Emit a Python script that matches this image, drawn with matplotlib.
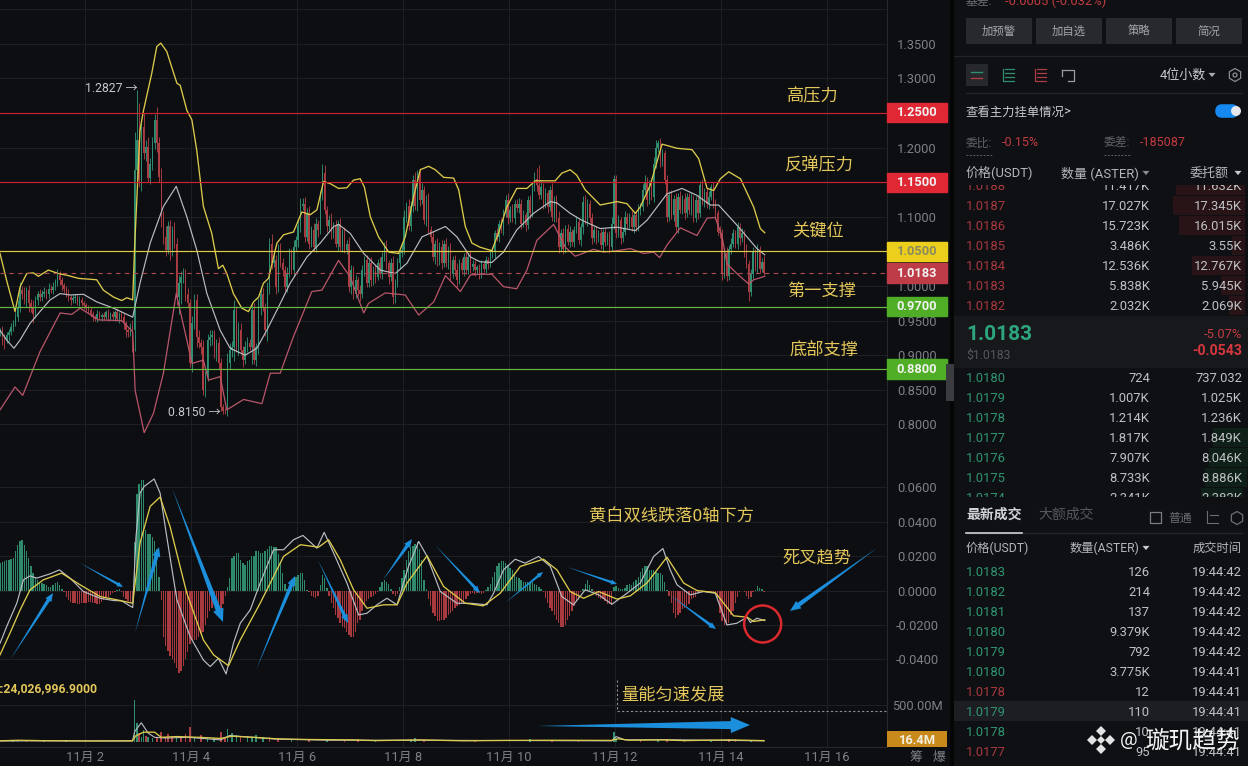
import matplotlib
matplotlib.use("Agg")
import matplotlib.pyplot as plt
from matplotlib.patches import Rectangle, Circle, Polygon, FancyBboxPatch, RegularPolygon

plt.rcParams["font.family"] = ["Roboto", "Noto Sans CJK SC", "DejaVu Sans"]

W, H = 1248, 766
BG = "#0d0e11"
GRID = "#1d1f23"
AXIS_TXT = "#7d8087"
GREEN = "#2f8f70"
RED = "#ab3d43"
NOTE = "#e3c75a"
ARROW = "#1c8fdc"

# hourly candles, x is the candle number (open = previous close)
closes = [
    .936, .927, .924, .929, .934, .941, .946, .955, .970, .994,
    .989, .980, .994, .975, .970, .960, .980, .989, .984, .989,
    .992, .989, .996, .994, .999, 1.004, 1.016, 1.008, 1.001, .996,
    .989, .984, .980, .982, .984, .977, .980, .975, .972, .970,
    .965, .960, .955, .953, .960, .955, .958, .955, .963, .955,
    .960, .955, .963, .953, .960, .955, .946, .936, .934, .941,
    .936, 1.168, 1.211, 1.153, 1.230, 1.192, 1.201, 1.156, 1.177, 1.206,
    1.240, 1.206, 1.158, 1.100, 1.071, 1.052, 1.086, 1.052, 1.081, 1.061,
    .984, 1.004, 1.013, 1.018, .989, .975, .888, .946, .980, .927,
    .917, .912, .849, .869, .922, .927, .929, .902, .917, .888,
    .825, .820, .818, .888, .907, .912, .965, .912, .936, .907,
    .893, .912, .917, .912, .965, .893, .912, .970, .989, .970,
    .936, .994, 1.061, 1.033, 1.037, .999, 1.052, 1.033, 1.023, .999,
    1.018, 1.047, 1.023, 1.057, 1.066, 1.086, 1.115, 1.119, 1.071, 1.105,
    1.061, 1.081, 1.057, 1.090, 1.081, 1.129, 1.163, 1.110, 1.086, 1.095,
    1.076, 1.086, 1.061, 1.090, 1.057, 1.076, 1.052, 1.061, .999, 1.023,
    .989, 1.008, .994, .989, 1.023, 1.037, 1.004, 1.033, 1.008, 1.023,
    1.013, 1.033, 1.018, 1.042, 1.057, 1.033, 1.013, 1.033, .984, 1.004,
    1.033, 1.047, 1.052, 1.100, 1.115, 1.086, 1.115, 1.153, 1.115, 1.163,
    1.124, 1.139, 1.095, 1.124, 1.081, 1.071, 1.042, 1.061, 1.037, 1.057,
    1.033, 1.061, 1.033, 1.052, 1.018, 1.037, 1.023, 1.008, 1.033, 1.023,
    1.042, 1.023, 1.042, 1.027, 1.032, 1.023, 1.027, 1.018, 1.032, 1.025,
    1.037, 1.032, 1.047, 1.049, 1.076, 1.071, 1.090, 1.081, 1.105, 1.124,
    1.098, 1.110, 1.098, 1.119, 1.112, 1.119, 1.090, 1.102, 1.088, 1.124,
    1.105, 1.143, 1.155, 1.146, 1.131, 1.143, 1.119, 1.134, 1.114, 1.139,
    1.100, 1.124, 1.098, 1.056, 1.076, 1.054, 1.083, 1.064, 1.078, 1.064,
    1.081, 1.093, 1.066, 1.085, 1.122, 1.095, 1.119, 1.098, 1.069, 1.081,
    1.069, 1.076, 1.059, 1.078, 1.064, 1.073, 1.056, 1.090, 1.155, 1.076,
    1.095, 1.069, 1.078, 1.100, 1.090, 1.100, 1.085, 1.102, 1.085, 1.110,
    1.114, 1.139, 1.151, 1.124, 1.148, 1.129, 1.177, 1.199, 1.206, 1.180,
    1.192, 1.153, 1.100, 1.131, 1.102, 1.126, 1.085, 1.129, 1.110, 1.126,
    1.105, 1.129, 1.110, 1.126, 1.098, 1.124, 1.105, 1.146, 1.122, 1.136,
    1.119, 1.129, 1.143, 1.119, 1.105, 1.078, 1.076, 1.018, 1.047, 1.015,
    1.054, 1.061, 1.076, 1.061, 1.085, 1.069, 1.076, 1.052, 1.032, .991,
    1.018, 1.049, 1.027, 1.052, 1.025, 1.035, 1.0183,
]
# wick lengths above / below the body, in thousandths
wick_up = [
    4, 6, 3, 5, 4, 6, 5, 8, 10, 12,
    6, 9, 5, 8, 6, 10, 6, 4, 7, 5,
    6, 4, 8, 5, 7, 6, 9, 6, 5, 3,
    4, 6, 3, 5, 4, 3, 5, 4, 3, 4,
    3, 5, 4, 3, 5, 4, 3, 5, 3, 4,
    3, 4, 3, 5, 3, 4, 6, 4, 3, 5,
    10, 55, 72, 53, 12, 20, 10, 15, 8, 10,
    8, 19, 10, 12, 8, 16, 8, 10, 6, 12,
    9, 12, 8, 8, 7, 8, 6, 10, 8, 8,
    9, 6, 10, 8, 8, 9, 7, 8, 6, 9,
    8, 5, 4, 15, 10, 8, 15, 6, 12, 10,
    6, 8, 9, 6, 8, 10, 6, 12, 10, 8,
    6, 12, 8, 14, 10, 8, 8, 10, 7, 6,
    10, 8, 6, 10, 6, 10, 12, 8, 10, 8,
    10, 6, 10, 8, 6, 9, 14, 12, 6, 8,
    10, 6, 10, 5, 8, 6, 9, 6, 10, 8,
    6, 8, 5, 7, 8, 6, 8, 5, 9, 6,
    8, 6, 9, 7, 6, 10, 5, 8, 10, 6,
    8, 5, 8, 10, 6, 10, 8, 7, 12, 5,
    8, 10, 6, 8, 10, 6, 8, 5, 9, 6,
    9, 6, 8, 6, 10, 6, 8, 10, 6, 8,
    5, 8, 6, 8, 5, 6, 4, 5, 6, 4,
    6, 5, 6, 8, 5, 8, 6, 8, 6, 8,
    10, 6, 8, 5, 6, 8, 6, 8, 5, 6,
    8, 6, 10, 16, 29, 10, 6, 8, 5, 6,
    10, 6, 8, 10, 6, 8, 5, 6, 8, 5,
    6, 8, 5, 6, 8, 10, 6, 5, 8, 5,
    6, 5, 6, 4, 6, 5, 6, 10, 5, 6,
    8, 5, 6, 8, 6, 5, 8, 5, 6, 8,
    6, 8, 10, 6, 5, 8, 10, 12, 5, 8,
    6, 5, 8, 6, 8, 5, 8, 6, 8, 6,
    8, 5, 6, 8, 5, 6, 8, 6, 8, 5,
    6, 8, 5, 8, 6, 5, 8, 6, 8, 10,
    5, 8, 6, 5, 8, 6, 8, 5, 8, 6,
    6, 8, 5, 8, 6, 5, 8,
]
wick_down = [
    8, 12, 15, 6, 8, 5, 6, 4, 6, 8,
    8, 6, 10, 12, 8, 14, 6, 8, 5, 6,
    5, 8, 6, 4, 6, 5, 4, 6, 8, 6,
    5, 6, 8, 4, 6, 5, 6, 4, 5, 6,
    4, 5, 6, 4, 5, 3, 5, 4, 3, 5,
    4, 3, 5, 3, 6, 5, 8, 10, 8, 6,
    31, 30, 25, 10, 15, 8, 12, 6, 8, 10,
    8, 12, 8, 15, 10, 8, 6, 15, 8, 6,
    12, 25, 30, 8, 10, 6, 5, 12, 8, 15,
    6, 10, 7, 10, 6, 8, 12, 6, 10, 8,
    5, 5, 3, 6, 8, 10, 20, 8, 12, 6,
    10, 6, 8, 4, 25, 6, 8, 10, 12, 6,
    8, 15, 6, 8, 6, 10, 8, 6, 8, 6,
    8, 5, 6, 8, 6, 10, 8, 5, 8, 6,
    8, 5, 6, 8, 10, 6, 5, 6, 8, 5,
    8, 6, 5, 10, 6, 8, 5, 6, 8, 10,
    8, 6, 8, 10, 6, 8, 5, 6, 8, 6,
    8, 5, 6, 8, 6, 8, 10, 6, 10, 8,
    6, 8, 5, 6, 8, 5, 6, 8, 5, 6,
    8, 5, 6, 8, 5, 8, 6, 10, 8, 6,
    8, 5, 6, 8, 10, 6, 8, 10, 5, 6,
    8, 6, 5, 8, 6, 9, 5, 8, 6, 5,
    6, 8, 5, 6, 8, 6, 8, 5, 8, 6,
    8, 5, 6, 8, 5, 6, 8, 5, 8, 6,
    8, 6, 5, 8, 6, 5, 8, 6, 8, 5,
    6, 8, 6, 8, 5, 8, 6, 5, 8, 6,
    8, 5, 6, 8, 10, 6, 8, 5, 8, 6,
    8, 6, 5, 8, 6, 5, 8, 6, 8, 6,
    5, 8, 6, 5, 8, 6, 5, 8, 6, 5,
    8, 6, 5, 8, 6, 5, 8, 6, 5, 8,
    6, 5, 8, 6, 5, 8, 6, 8, 5, 6,
    8, 5, 6, 8, 5, 6, 8, 6, 5, 8,
    6, 8, 5, 6, 8, 5, 6, 10, 6, 8,
    6, 8, 5, 6, 8, 10, 6, 10, 6, 12,
    6, 8, 5, 8, 6, 5, 2,
]

upper_x = [0, 3, 6.8, 9.1, 12.1, 15.1, 17.4, 21.9, 26.4, 31, 35.5, 43.8, 46.8, 51.4, 55.1, 57.4, 60.1, 60.9, 63.4, 65, 68.7, 71, 72.8, 75.5, 80.1, 81.6, 84.6, 86.9, 89.1, 92.1, 95.9, 98.9, 100.9, 102.7, 105.7, 109.5, 112.5, 114.8, 117.1, 119.3, 121.6, 125.4, 128.4, 132.9, 136.7, 140.5, 143.5, 146.5, 149.5, 153.3, 157.1, 160.1, 163.1, 165, 167.7, 171.4, 176, 180.5, 183.5, 187.3, 190.3, 194.1, 197.1, 200.9, 205.4, 207.7, 210.7, 213.7, 217.4, 222.7, 225.7, 229.5, 234, 238.6, 242.4, 251.4, 254.4, 258.2, 261.2, 265, 271.8, 279.4, 283.9, 287.7, 289.9, 294.5, 299.8, 306.6, 313.4, 316.4, 320.2, 323.2, 326.2, 330, 335.3, 341.3, 344.3, 346.3]
upper_y = [1.047, 1.008, .963, .999, 1.018, 1.019, 1.014, 1.023, 1.018, 1.015, 1.011, 1.009, .994, .984, .979, .983, .980, 1.052, 1.225, 1.254, 1.307, 1.346, 1.351, 1.339, 1.293, 1.290, 1.254, 1.240, 1.196, 1.115, 1.076, 1.025, 1.030, 1.018, .989, .968, .963, .977, .984, 1.004, 1.011, 1.062, 1.074, 1.078, 1.107, 1.103, 1.110, 1.151, 1.148, 1.141, 1.142, 1.153, 1.155, 1.143, 1.100, 1.071, 1.049, 1.047, 1.071, 1.129, 1.168, 1.173, 1.168, 1.157, 1.156, 1.139, 1.086, 1.062, 1.056, 1.051, 1.076, 1.114, 1.141, 1.141, 1.152, 1.152, 1.163, 1.168, 1.160, 1.139, 1.117, 1.122, 1.119, 1.105, 1.114, 1.146, 1.205, 1.199, 1.197, 1.184, 1.141, 1.138, 1.155, 1.165, 1.155, 1.114, 1.083, 1.077]
middle_x = [0, 3, 6.3, 9.1, 13.6, 18.1, 22.7, 27.2, 31.7, 37.8, 43.8, 51.4, 60.1, 63.4, 68, 74, 79.8, 84.6, 89.1, 93.7, 99.7, 104.2, 111, 116.3, 120.8, 125.4, 131.4, 139, 145, 151.1, 153.3, 158.6, 164.7, 172.2, 179, 184.3, 191.1, 201.7, 206.9, 213, 217.4, 222.7, 228, 234, 241.6, 249.2, 252.2, 258.2, 263.5, 271.8, 279.4, 287.7, 293, 302, 308.8, 315.6, 321.7, 325.4, 333.7, 342.8, 346.3]
middle_y = [.936, .922, .910, .922, .946, .963, .980, .989, .987, .988, .977, .968, .955, 1.004, 1.062, 1.115, 1.144, 1.100, 1.052, .989, .936, .910, .900, .910, .936, .965, 1.004, 1.042, 1.062, 1.086, 1.089, 1.076, 1.047, 1.023, 1.018, 1.033, 1.071, 1.086, 1.071, 1.042, 1.035, 1.034, 1.049, 1.081, 1.105, 1.122, 1.120, 1.105, 1.095, 1.083, 1.085, 1.080, 1.095, 1.133, 1.141, 1.131, 1.117, 1.117, 1.088, 1.054, 1.045]
lower_x = [0, 6.8, 10.3, 18.1, 27.2, 32.5, 36.3, 44.6, 55.1, 60.1, 61.2, 65.3, 69.5, 74, 79.8, 84.6, 86.9, 92.1, 94.4, 99.7, 102.7, 110.3, 118.6, 122.4, 126.9, 132.9, 141.2, 145.8, 153.3, 158.6, 164.7, 166.9, 174.5, 183.5, 189.6, 196.4, 201.7, 208.5, 213, 217.4, 222.7, 228, 234, 238.6, 243.1, 250.7, 256, 260.5, 268.8, 273.3, 279.4, 285.4, 291.5, 296, 298.7, 302, 308.1, 315.6, 320.2, 323.9, 327, 329.2, 333.7, 339, 341.3, 346.3]
lower_y = [.821, .854, .842, .905, .961, .959, .968, .951, .950, .934, .849, .788, .816, .874, .989, .922, .888, .893, .864, .869, .821, .836, .830, .874, .874, .927, .992, .994, 1.037, 1.013, .961, .975, .990, .987, .958, .977, 1.015, .992, 1.016, 1.017, 1.017, .999, .996, 1.023, 1.066, 1.089, 1.056, 1.043, 1.053, 1.049, 1.051, 1.054, 1.047, 1.049, 1.041, 1.059, 1.084, 1.073, 1.098, 1.099, 1.071, 1.032, 1.018, 1.003, 1.009, 1.014]

levels = [1.25, 1.15, 1.05, .97, .88]
level_colors = ["#c9232e", "#c9232e", "#e0cb45", "#69b843", "#69b843"]
tag_colors = ["#e02834", "#e02834", "#ebcf1c", "#4fae25", "#4fae25"]
last_price = 1.0183
price_ticks = [.80, .85, .90, .95, 1.00, 1.05, 1.10, 1.15, 1.20, 1.25, 1.30, 1.35, 1.40]
hidden_ticks = [1.05, 1.15, 1.25, 1.40]  # labels under a tag, or off the reference

# MACD histogram in thousandths, one bar per candle
macd_hist = [
    15.9, 16.3, 16.9, 17.5, 17.8, 18.2, 18.8, 22.7, 26.6, 28.5,
    29.1, 26.6, 22.7, 18.8, 14, 10, 8, 6, 5.2, 4.3,
    3.9, 3.3, 2.3, 1.9, 3.3, 4.3, 4.7, 3.3, .8, -.8,
    -4, -5.5, -6.5, -7, -7.5, -7.8, -8, -7.5, -7, -7,
    -6.5, -6.5, -7, -7.5, -8, -7.8, -6.5, -5.5, -4.5, -3.5,
    -2.5, -1.5, -1, .3, 1, -.8, -4, -5, -6, -6.5,
    -5, 28, 56, 62, 64, 64, 35, 33, 33, 31,
    29, 24, 8, -5.5, -27, -32, -35, -38, -40, -42,
    -45, -48, -47, -44, -40, -36, -31, -29, -29, -29,
    -27, -25, -24, -20, -16, -12, -10, -9, -11, -14,
    -12, -8, -3, 2, 7, 19, 20, 22, 22, 18,
    16, 15, 17, 18, 20, 20, 23, 23, 22, 22,
    23, 24, 26, 26, 25, 25, 21, 16, 10, 4,
    1, .3, 1, 7, 8, 9, 10, 10, 6, .5,
    -1, -3, -4, -4.5, -3, 3, 9, 7, 1.5, -3,
    -7, -10, -14, -16, -19, -21, -22, -24, -26, -27,
    -27, -24, -19, -17, -12, -8, -6, -5, -4, -3,
    -2, -1, 2, 5, 6, 5, 4, 1, -2, -3,
    -2, 2, 7, 12, 18, 23, 25, 26, 27, 28,
    24, 18, 6, 1, -5, -9, -13, -15, -18, -18,
    -17, -17, -16, -14, -13, -12, -10, -9, -8.5, -8,
    -8, -5, -3, -2, -1.5, -2, -1.5, -1.5, -2, -1.5,
    .5, 2, 4, 8, 11, 14, 16, 17, 17, 16,
    15, 13, 12, 10, 8, 7, 6, 5, 5, 5,
    5, 5, 4, 3, 2, 1, -1, -4.5, -7, -10,
    -12, -14, -17, -19, -21, -21, -20, -17, -15, -12,
    -9, -6, -5, -1, 1, 4, 6, 3, 1, -1,
    -3, -4.5, -5, -5, -6, -8, -8, -8.5, 2, 2.5,
    1.5, 1, 1, 1.5, 3, 4, 3, 5, 6, 8,
    11, 13, 14, 14, 12, 12, 12, 11, 10, 10,
    9, 5, .5, -3, -7, -13, -16, -14, -13, -11,
    -10, -9, -8, -5, -4.5, -3.5, -1.5, -.5, -.5, -1,
    -1.5, -1, -1, -1.5, -2, -6, -13, -18, -20, -20,
    -19, -14, -12, -7, -4, -1, -.5, -1, -3, -5,
    -4, -1, .5, 2.5, 1.5, .8, -1,
]
dif_x = [0, 3, 7.6, 10.6, 13.6, 16.6, 22.7, 26.9, 31.7, 37.8, 45.3, 51.4, 55.1, 60.1, 61.6, 63.4, 65.3, 69.8, 72.5, 75.5, 80.1, 86.1, 92.1, 95.2, 98.9, 102.4, 105.7, 108.8, 113.3, 117.8, 123.9, 128.4, 132.9, 137.2, 143.5, 146.8, 151.1, 157.1, 162.4, 166.2, 170.7, 175.2, 179.8, 185, 189.6, 193.4, 199.4, 206.9, 212.9, 220.5, 223.5, 228, 233.3, 237.8, 243.9, 249.2, 254.4, 259.7, 265, 271.1, 277.1, 283.9, 289.9, 296, 300.2, 303.5, 306.6, 312.6, 318.6, 323.9, 329.2, 333.7, 338.3, 339.8, 342.8, 346.3]
dif_y = [-30.7, -21, -7.4, 6.2, 8.5, 7.2, 9.7, 12, 7.2, -.6, -4.5, -5.8, -6, -9.9, 31.4, 56.6, 60.5, 64.8, 56.6, 31.4, -5.4, -26.8, -40.4, -44.2, -39.4, -48.5, -30.7, -19, -11.3, 4.3, 23.7, 23.7, 29.5, 32, 24.6, 33.8, 21.7, 4.3, -14.2, -13.2, -8.3, -4.5, -8.3, 14, 28.5, 19.8, -.6, -7.4, -7.4, -8.3, -1.6, 12, 18.2, 15.9, 19.8, 14, -3.5, -8.3, .4, -2.5, -8, -1.6, 4.3, 19.8, 24.4, 12, 3.3, -2.5, -.6, -1.6, -20, -19, -15.5, -18.6, -16.1, -17.5]
dea_x = [0, 4.5, 9.1, 13.6, 19.6, 27.9, 36.3, 45.3, 52.9, 60.1, 63.4, 68, 72.5, 77, 84.6, 92.1, 96.7, 103.5, 108.8, 117.8, 128.4, 136, 144.3, 148.8, 154.1, 160.1, 166.2, 173.7, 179.8, 184.3, 193.4, 200.9, 210.7, 218.9, 226.5, 235.6, 246.1, 252.2, 258.2, 264.3, 271.1, 279.4, 285.4, 292.9, 302, 309.6, 315.6, 323.9, 332.2, 338.3, 341.3, 346.3]
dea_y = [-37.4, -24.8, -11.3, .4, 6.2, 10.1, 3.3, -3.5, -5.4, -7.4, 27.5, 48.9, 54.3, 37.2, -1.6, -28.7, -37.4, -43.7, -28.7, -7.4, 19.8, 26.6, 25.2, 29.5, 17.8, .4, -10.3, -8.3, -8.3, 4.3, 20.2, 2.3, -7.4, -8.9, -1.6, 14, 18.2, 12, -.6, -4.5, -.6, -5, -3.1, 4.3, 19.4, 4.3, 0, -1.2, -14.7, -15.5, -18, -17]
macd_ticks = [-.04, -.02, 0, .02, .04, .06]

# volume in millions, only bars tall enough to see
vol_x = [6, 8, 12, 20, 30, 45, 61, 62, 63, 64, 65, 66, 67, 69, 71, 73, 75, 76, 78, 80, 82, 84, 86, 88, 91, 94, 97, 100, 102, 103, 105, 107, 109, 112, 114, 116, 119, 122, 126, 132, 140, 148, 156, 162, 170, 186, 188, 192, 215, 240, 250, 262, 278, 279, 290, 298, 302, 310, 322, 330, 333, 340]
vol_y = [25, 30, 20, 25, 18, 15, 568, 250, 113, 68, 159, 80, 68, 50, 60, 136, 70, 110, 80, 60, 55, 105, 204, 60, 90, 50, 45, 136, 70, 168, 115, 90, 70, 80, 60, 85, 70, 60, 45, 30, 35, 25, 30, 35, 20, 30, 50, 30, 25, 35, 25, 25, 136, 50, 30, 30, 40, 25, 30, 35, 40, 25]
vol_colors = "ggrggr" + "ggrggrg" + "grrrrrgrrrg" + "rggrrgggrg" + "gggrrgrgrr" + "gggrrgrrgg" + "rgrrgrrg"
vol_ma_x = [0, 8, 20, 40, 60, 61.5, 65, 70, 73, 80, 90, 100, 105, 115, 125, 140, 160, 170, 190, 210, 230, 250, 277, 280, 285, 300, 310, 330, 346]
vol_ma_y = [12, 20, 14, 10, 12, 80, 130, 130, 60, 70, 60, 45, 75, 60, 40, 30, 25, 15, 25, 12, 18, 20, 18, 40, 20, 25, 15, 25, 15]
vol_ma2_x = [0, 20, 60, 61, 64, 67, 70, 75, 85, 100, 104, 110, 125, 150, 190, 277, 279, 283, 300, 346]
vol_ma2_y = [10, 12, 10, 140, 258, 120, 60, 50, 60, 25, 85, 70, 35, 20, 20, 12, 70, 25, 28, 12]

tick_x = [38.5, 86.5, 134.5, 182.5, 230.5, 278.5, 326.5, 374.5]
tick_labels = ["11月 2", "11月 4", "11月 6", "11月 8", "11月 10", "11月 12", "11月 14", "11月 16"]

ask_rows = [
    ("1.0188", "11.417K", "11.632K", 1176), ("1.0187", "17.027K", "17.345K", 1173),
    ("1.0186", "15.723K", "16.015K", 1179), ("1.0185", "3.486K", "3.55K", 1232),
    ("1.0184", "12.536K", "12.767K", 1192), ("1.0183", "5.838K", "5.945K", 1221),
    ("1.0182", "2.032K", "2.069K", 1229),
]
bid_rows = [
    ("1.0180", "724", "737.032"), ("1.0179", "1.007K", "1.025K"), ("1.0178", "1.214K", "1.236K"),
    ("1.0177", "1.817K", "1.849K"), ("1.0176", "7.907K", "8.046K"), ("1.0175", "8.733K", "8.886K"),
    ("1.0174", "2.341K", "2.382K"),
]
trade_rows = [
    ("1.0183", "126", "19:44:42", "g"), ("1.0182", "214", "19:44:42", "g"), ("1.0181", "137", "19:44:42", "g"),
    ("1.0180", "9.379K", "19:44:42", "g"), ("1.0179", "792", "19:44:42", "g"), ("1.0180", "3.775K", "19:44:41", "g"),
    ("1.0178", "12", "19:44:41", "r"), ("1.0179", "110", "19:44:41", "g"), ("1.0178", "10", "19:44:41", "g"),
    ("1.0177", "95", "19:44:41", "r"),
]

fig = plt.figure(figsize=(W / 100, H / 100), dpi=100, facecolor=BG)


def px_axes(left, top, right, bottom):
    ax = fig.add_axes([left / W, 1 - bottom / H, (right - left) / W, (bottom - top) / H], facecolor=BG)
    ax.set_xlim(0, 887 / 2.2083)
    ax.grid(True, color=GRID, linewidth=0.8)
    ax.set_axisbelow(True)
    ax.set_xticks(tick_x)
    ax.tick_params(length=0, labelbottom=False, labelleft=False, labelright=True, right=False, left=False, colors=AXIS_TXT, labelsize=9.3, pad=21.6)
    for s in ["top", "left"]:
        ax.spines[s].set_visible(False)
    for s in ["right", "bottom"]:
        ax.spines[s].set_color("#25272b")
    return ax


def center_ticks(ax, ticks, fmt, hidden=()):
    ax.set_yticks(ticks)
    ax.set_yticklabels(["" if t in hidden else fmt.format(t) for t in ticks], ha="center")


# price panel
ax = px_axes(0, 0, 887, 463)
ax.set_ylim(.7442, 1.4133)
center_ticks(ax, price_ticks, "{:.4f}", hidden_ticks)
opens = [closes[0]] + closes[:-1]
for i, c in enumerate(closes):
    o = opens[i]
    col = GREEN if c >= o else RED
    top, bot = max(o, c), min(o, c)
    ax.plot([i, i], [bot - wick_down[i] / 1000, top + wick_up[i] / 1000], color=col, lw=0.65, solid_capstyle="butt", zorder=2)
    ax.bar(i, top - bot, bottom=bot, width=0.62, color=col, linewidth=0, zorder=2)
ax.plot(upper_x, upper_y, color="#dcca4c", lw=0.95, zorder=3)
ax.plot(middle_x, middle_y, color="#b9bdc3", lw=0.85, zorder=3)
ax.plot(lower_x, lower_y, color="#b9566b", lw=0.9, zorder=3)
for lvl, col, tag in zip(levels, level_colors, tag_colors):
    ax.axhline(lvl, color=col, lw=0.85, zorder=4)
    ax.add_patch(Rectangle((1.0, lvl - .0137), 60 / 887, .0275, transform=ax.get_yaxis_transform(), color=tag, clip_on=False, zorder=6))
    ax.text(1 + 30 / 887, lvl, f"{lvl:.4f}", transform=ax.get_yaxis_transform(), ha="center", va="center",
            color="#8b8a5c" if lvl == 1.05 else "#f2f2f2", fontsize=9.3, fontweight="bold", zorder=7)
ax.axhline(last_price, color="#b04a52", lw=0.8, ls=(0, (4, 4)), zorder=4)
ax.add_patch(Rectangle((1.0, last_price - .0145), 60 / 887, .029, transform=ax.get_yaxis_transform(), color="#bd3c47", clip_on=False, zorder=6))
ax.text(1 + 30 / 887, last_price, f"{last_price:.4f}", transform=ax.get_yaxis_transform(), ha="center", va="center",
        color="#f2f2f2", fontsize=9.3, fontweight="bold", zorder=7)

# MACD panel
ax2 = px_axes(0, 463, 887, 680)
ax2.set_ylim(-.0520, .0741)
center_ticks(ax2, macd_ticks, "{:.4f}")
ax2.bar(range(len(macd_hist)), [v / 1000 for v in macd_hist], width=0.62, linewidth=0,
        color=["#2f8a6c" if v >= 0 else "#a8393f" for v in macd_hist], zorder=2)
ax2.plot(dif_x, [v / 1000 for v in dif_y], color="#b9bdc3", lw=0.85, zorder=3)
ax2.plot(dea_x, [v / 1000 for v in dea_y], color="#dcca4c", lw=0.95, zorder=3)

# volume panel
ax3 = px_axes(0, 680, 887, 747)
ax3.set_ylim(-72, 840.6)
ax3.set_yticks([500])
ax3.set_yticklabels(["500.00M"], ha="center")
ax3.set_xticklabels(tick_labels)
ax3.tick_params(axis="x", labelbottom=True, pad=3, labelsize=9.3)
ax3.bar(vol_x, vol_y, width=0.7, linewidth=0, color=[GREEN if c == "g" else RED for c in vol_colors], zorder=2)
ax3.plot(vol_ma2_x, vol_ma2_y, color="#b9bdc3", lw=0.8, zorder=3)
ax3.plot(vol_ma_x, vol_ma_y, color="#dcca4c", lw=0.95, zorder=3)

# overlay in pixel coordinates: right panel, notes, arrows
ov = fig.add_axes([0, 0, 1, 1], zorder=10)
ov.set_xlim(0, W)
ov.set_ylim(H, 0)
ov.axis("off")
ov.patch.set_alpha(0)


def txt(x, y, s, color="#c8cacd", size=9.4, ha="left", weight="normal", zorder=5, **kw):
    return ov.text(x, y + 1, s, color=color, fontsize=size, ha=ha, va="center", fontweight=weight, zorder=zorder, **kw)


def tri(x, y, color="#8a8c90", s=3.5):
    ov.add_patch(Polygon([(x - s, y - s * .6), (x + s, y - s * .6), (x, y + s * .6)], color=color, lw=0, zorder=6))


def blue_arrow(x0, y0, x1, y1, width, head=2.0):
    dx, dy = x1 - x0, y1 - y0
    ln = (dx * dx + dy * dy) ** .5
    ux, uy = dx / ln, dy / ln
    nx, ny = -uy, ux
    hl = width * 2.4
    bx, by = x1 - ux * hl, y1 - uy * hl
    pts = [(x0, y0), (bx + nx * width / 2, by + ny * width / 2), (bx + nx * width * head / 2, by + ny * width * head / 2),
           (x1, y1), (bx - nx * width * head / 2, by - ny * width * head / 2), (bx - nx * width / 2, by - ny * width / 2)]
    ov.add_patch(Polygon(pts, color=ARROW, lw=0, zorder=4))


blue_arrow(10, 660, 53, 593, 3.5)
blue_arrow(80, 563, 123, 587, 2.5)
blue_arrow(135, 633, 159, 547, 4)
blue_arrow(172, 488, 223, 622, 5.5)
blue_arrow(256, 670, 295, 576, 4)
blue_arrow(318, 560, 348, 623, 3.5)
blue_arrow(383, 580, 412, 539, 3.5)
blue_arrow(435, 545, 480, 593, 3)
blue_arrow(505, 603, 543, 572, 2.5)
blue_arrow(567, 567, 617, 584, 2.5)
blue_arrow(670, 595, 716, 629, 3)
blue_arrow(877, 548, 790, 611, 4.5)
blue_arrow(537, 726, 750, 725, 8, head=2.0)
ov.add_patch(Circle((762.7, 624), 18.5, fill=False, ec="#d8292f", lw=1.8, zorder=5))
ov.plot([617, 617, 887], [680, 711, 711], color="#8d8f93", lw=0.8, ls=(0, (2, 2)), zorder=3)

for x, y, s in [(813, 95, "高压力"), (819, 164, "反弹压力"), (818, 230, "关键位"), (822, 290, "第一支撑"),
                (824, 350, "底部支撑"), (672, 515, "黄白双线跌落0轴下方"), (817, 557, "死叉趋势"), (673, 693, "量能匀速发展")]:
    txt(x, y, s, color=NOTE, size=12.4, ha="center")
txt(85, 88, "1.2827 →", color="#c5c8cc", size=8.8)
txt(168, 411, "0.8150 →", color="#c5c8cc", size=8.8)
txt(-3, 688, "t:24,026,996.9000", color=NOTE, size=8.7, weight="bold")
ov.add_patch(Rectangle((887, 731), 60, 16, color="#c98a1c", lw=0, zorder=4))
txt(917, 739, "16.4M", color="#f4f0e0", size=9.3, ha="center", weight="bold")
txt(916, 757, "筹", color=AXIS_TXT, size=9.3, ha="center")
txt(939, 757, "爆", color=AXIS_TXT, size=9.3, ha="center")

# strip between chart and right panel
ov.add_patch(Rectangle((951, 0), 297, H, color="#0e1013", lw=0, zorder=1))
ov.add_patch(Rectangle((950, 0), 4, H, color="#050506", lw=0, zorder=1))
ov.add_patch(Rectangle((946, 364), 8, 37, color="#3a3c40", lw=0, zorder=2))

txt(966, 0, "基差:", color="#6c6e73", size=8.5)
txt(1005, 0, "-0.0005 (-0.032%)", color="#c23c42", size=9.4)
for x0, s in zip([966, 1036, 1106, 1176], ["加预警", "加自选", "策略", "简况"]):
    ov.add_patch(Rectangle((x0, 18), 66, 26, color="#27292e", lw=0, zorder=2))
    txt(x0 + 33, 30, s, color="#a3a5a9", size=8.2, ha="center")
ov.plot([954, 1248], [56, 56], color="#212327", lw=1, zorder=2)
ov.plot([966, 1242], [92.5, 92.5], color="#212327", lw=1, zorder=2)
ov.add_patch(Rectangle((966, 64), 22, 22, color="#26282c", lw=0, zorder=2))
ov.plot([971, 982], [72, 72], color=GREEN, lw=1, zorder=3)
ov.plot([971, 982], [78, 78], color=RED, lw=1, zorder=3)
for x0, col in [(1003, GREEN), (1035, RED)]:
    ov.plot([x0, x0, x0 + 11], [69, 81, 81], color=col, lw=0.9, zorder=3)
    for yy in [69, 73, 77]:
        ov.plot([x0 + 2, x0 + 11], [yy, yy], color=col, lw=0.9, zorder=3)
ov.plot([1062, 1074, 1074, 1068], [70, 70, 81, 81], color="#9a9ca0", lw=0.9, zorder=3)
ov.plot([1062, 1062], [70, 76], color="#9a9ca0", lw=0.9, zorder=3)
txt(1160, 74, "4位小数", color="#c8cacd")
tri(1212, 75, color="#a8aaae")
ov.add_patch(RegularPolygon((1235, 75), 6, radius=6.5, fill=False, ec="#8a8c90", lw=0.9, zorder=3))
ov.add_patch(Circle((1235, 75), 2, fill=False, ec="#8a8c90", lw=0.9, zorder=3))
txt(966, 111, "查看主力挂单情况", color="#c8cacd", size=8.9)
txt(1063, 111, ">", color="#c8cacd")
ov.add_patch(FancyBboxPatch((1218, 107), 18, 8, boxstyle="round,pad=0,rounding_size=4", mutation_aspect=1, color="#1689f0", lw=4, zorder=3))
ov.add_patch(Circle((1236, 111), 5, color="#e4e8ec", lw=0, zorder=4))
txt(966, 142, "委比:", color="#5f6165", size=8.5)
txt(1002, 142, "-0.15%", color="#c23c42", size=9)
txt(1104, 142, "委差:", color="#5f6165", size=8.5)
txt(1140, 142, "-185087", color="#c23c42", size=9)
for a, b in [(966, 993), (1104, 1131)]:
    ov.plot([a, b], [155, 155], color="#5f6165", lw=0.7, ls=(0, (2, 1.5)), zorder=3)

for k, (p, q, a, dx) in enumerate(ask_rows):
    y = 186 + 20 * k
    ov.add_patch(Rectangle((dx, y - 10), 1245 - dx, 19, color="#281416", lw=0, zorder=2))
    txt(966, y, p, color="#a8383e")
    txt(1150, y, q, ha="right", color="#bfc1c4")
    txt(1242, y, a, ha="right", color="#bfc1c4")
ov.add_patch(Rectangle((954, 160), 294, 24.5, color="#0e1013", lw=0, zorder=6))
txt(966, 172, "价格(USDT)", color="#b4b6ba", zorder=7)
txt(1139, 172, "数量 (ASTER)", color="#b4b6ba", ha="right", zorder=7)
tri(1146, 173)
txt(1229, 172, "委托额", color="#b4b6ba", ha="right", zorder=7)
tri(1238, 173, color="#c8cacd")

ov.add_patch(Rectangle((954, 316), 294, 52, color="#16181c", lw=0, zorder=2))
txt(966, 334, "1.0183", color="#2da67e", size=15, weight="bold")
txt(966, 354, "$1.0183", color="#55575b", size=8.8)
txt(1242, 333, "-5.07%", color="#c23c42", ha="right")
txt(1242, 350, "-0.0543", color="#d4383e", size=10.2, ha="right", weight="bold")

for k, (p, q, a) in enumerate(bid_rows):
    y = 378 + 20 * k
    if k >= 3:
        ov.add_patch(Rectangle((1205 + 4 * (5 - k), y - 10), 42, 19, color="#0f2019", lw=0, zorder=2))
    txt(966, y, p, color="#2f9474")
    txt(1150, y, q, ha="right", color="#bfc1c4")
    txt(1242, y, a, ha="right", color="#bfc1c4")
ov.add_patch(Rectangle((954, 497), 294, 13, color="#0e1013", lw=0, zorder=6))

txt(966, 514, "最新成交", color="#d0d2d5", size=10, weight="bold", zorder=7)
txt(1038, 514, "大额成交", color="#55575b", size=10, zorder=7)
ov.add_patch(Rectangle((1150, 512), 11, 11, fill=False, ec="#7a7c80", lw=0.9, zorder=3))
txt(1168, 517, "普通", color="#6c6e73", size=8.5)
ov.plot([1207, 1207, 1218], [511, 523, 523], color="#6c6e73", lw=0.8, zorder=3)
ov.plot([1210, 1218], [515, 515], color="#6c6e73", lw=0.8, zorder=3)
ov.add_patch(RegularPolygon((1237, 518), 6, radius=6.5, fill=False, ec="#6c6e73", lw=0.9, zorder=3))
ov.plot([966, 1242], [533, 533], color="#24262a", lw=1, zorder=3)
ov.plot([966, 1022], [533, 533], color="#d0d2d5", lw=1.2, zorder=4)
txt(966, 547, "价格(USDT)", color="#b4b6ba", size=8.8)
txt(1139, 547, "数量(ASTER)", color="#b4b6ba", ha="right", size=8.8)
tri(1146, 548, color="#c8cacd")
txt(1242, 547, "成交时间", color="#b4b6ba", ha="right", size=8.8)
ov.add_patch(Rectangle((954, 701), 294, 20, color="#1c1e22", lw=0, zorder=2))
for k, (p, q, t, side) in enumerate(trade_rows):
    y = 571 + 20 * k
    txt(966, y, p, color="#2f9474" if side == "g" else "#a8383e")
    txt(1150, y, q, ha="right", color="#bfc1c4")
    txt(1242, y, t, ha="right", color="#bfc1c4")

# watermark
for cx, cy, r in [(1101, 731, 5), (1092, 740, 5), (1110, 740, 5), (1101, 749, 5)]:
    ov.add_patch(Polygon([(cx, cy - r), (cx + r, cy), (cx, cy + r), (cx - r, cy)], color="#e2e3e5", lw=0, zorder=8))
ov.add_patch(Polygon([(1101, 736), (1105, 740), (1101, 744), (1097, 740)], color="#e2e3e5", lw=0, zorder=8))
txt(1120, 739, "@", color="#f0f0f0", size=14, zorder=8)
txt(1145, 740, "璇玑趋势", color="#f4f4f4", size=17, zorder=8)

fig.savefig("out.png", dpi=100, facecolor=BG)
